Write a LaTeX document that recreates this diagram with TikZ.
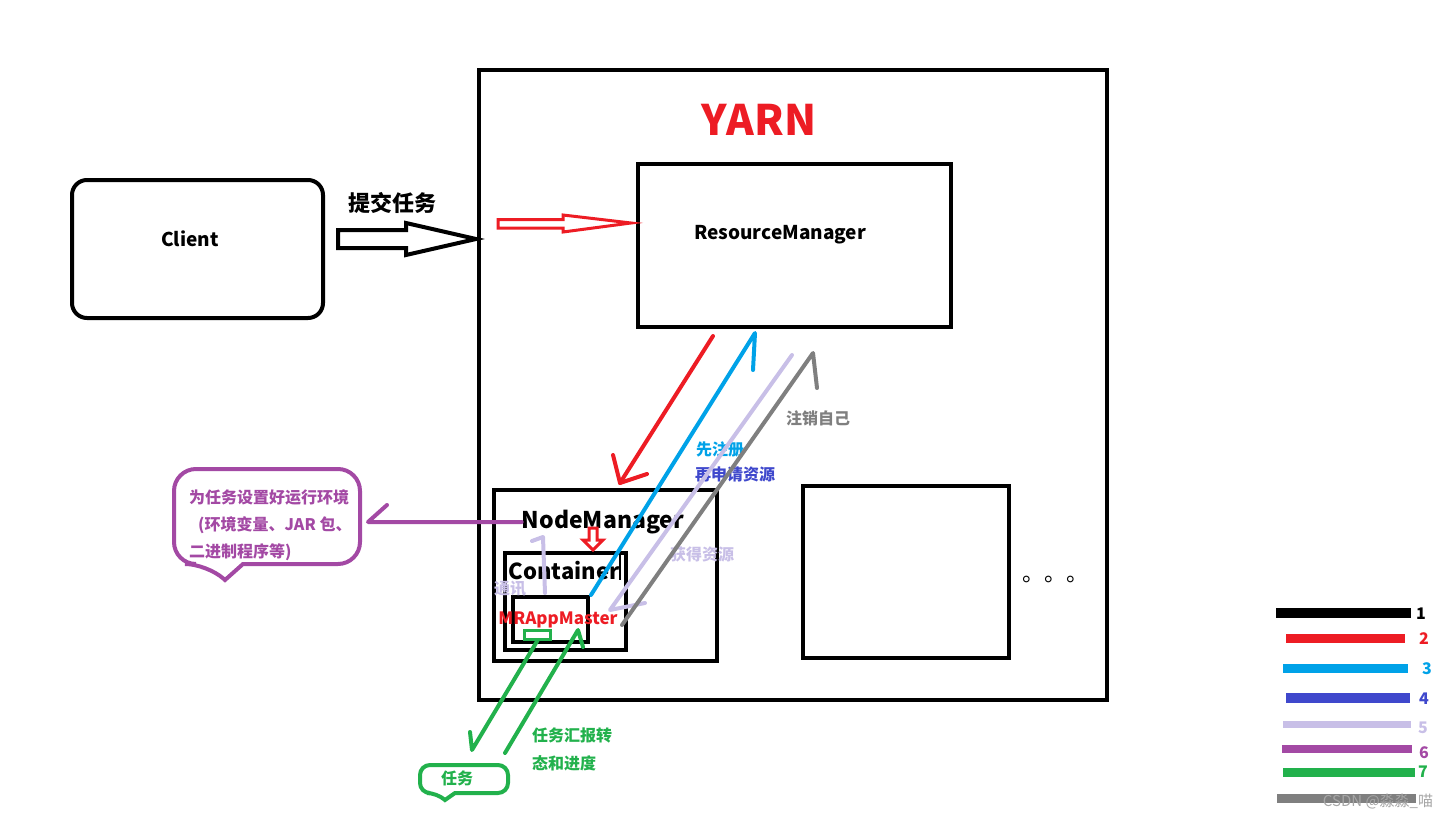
\documentclass[tikz,border=0pt]{standalone}
\usepackage{fontspec}
\setmainfont{Noto Sans CJK SC}
\usetikzlibrary{positioning}
\definecolor{pred}{RGB}{237,28,36}
\definecolor{pblue}{RGB}{0,162,232}
\definecolor{pindigo}{RGB}{63,72,204}
\definecolor{plilac}{RGB}{200,191,231}
\definecolor{ppurple}{RGB}{163,73,164}
\definecolor{pgreen}{RGB}{34,177,76}
\definecolor{pgray}{RGB}{127,127,127}
\newcommand{\fsz}[1]{\fontsize{#1}{#1}\selectfont}

\begin{document}
\begin{tikzpicture}[x=1pt,y=-1pt,
  box/.style={draw=black,line width=4pt,inner sep=0pt,outer sep=0pt},
  txt/.style={font=\bfseries\fsz{16},inner sep=0pt},
  stroke/.style={line width=4pt,line cap=round,line join=round},
  keyline/.style={line width=#1}]
\useasboundingbox (0,0) rectangle (1451,819);
% boxes
\node[box,rounded corners=15pt,minimum width=251pt,minimum height=138pt] (client) at (197.5,249) {};
\node[box,minimum width=628pt,minimum height=630pt] (yarn) at (793,385) {};
\node[box,minimum width=313pt,minimum height=163pt] (rm) at (794.5,245.5) {};
\node[box,minimum width=223pt,minimum height=171pt] (nm) at (605.5,575.5) {};
\node[box,minimum width=121pt,minimum height=97pt] (cont) at (565.5,601.5) {};
\node[box,minimum width=75pt,minimum height=45pt] (mram) at (550.5,619.5) {};
\node[box,minimum width=206pt,minimum height=172pt] (nm2) at (906,572) {};
\draw[line width=1.2pt] (620,555) -- (620,580);
\node[draw=pgreen,line width=3pt,minimum width=26pt,minimum height=9pt,inner sep=0pt] (task0) at (537.5,634.5) {};
% labels
\node[txt,font=\bfseries\fsz{19}] (clientlbl) at (190,239) {Client};
\node[txt,font=\bfseries\fsz{19}] (rmlbl) at (780,235) {ResourceManager};
\node[txt,font=\bfseries\fsz{42},text=pred] (yarnlbl) at (759,120) {YARN};
\node[txt,font=\bfseries\fsz{23}] (nmlbl) at (603,522) {NodeManager};
\node[txt,font=\bfseries\fsz{22}] (contlbl) at (564,571) {Container};
\node[txt,font=\bfseries\fsz{17},text=pred] (mramlbl) at (558,620) {MRAppMaster};
\node[txt,font=\bfseries\fsz{22}] (submit) at (392,203) {提交任务};
\node[txt,font=\fsz{22},anchor=base west] (dots) at (1022,581) {。。。};
\node[txt,text=pgray] (unreg) at (818,418) {注销自己};
\node[txt,text=pblue] (reg) at (720,449) {先注册};
\node[txt,text=pindigo] (apply) at (735,474) {再申请资源};
\node[txt,text=plilac] (got) at (702,554) {获得资源};
\node[txt,text=plilac] (comm) at (510,589) {通讯};
\node[txt,text=ppurple,anchor=west] (env1) at (189,497) {为任务设置好运行环境};
\node[txt,text=ppurple,anchor=west] (env2) at (198,525) {(环境变量、JAR 包、};
\node[txt,text=ppurple,anchor=west] (env3) at (189,552) {二进制程序等)};
\node[txt,text=pgreen,anchor=west] (rep1) at (532,735) {任务汇报转};
\node[txt,text=pgreen,anchor=west] (rep2) at (532,763) {态和进度};
\node[txt,text=pgreen] (task) at (457,778) {任务};
% hollow arrows
\draw[line width=4pt] (338,230) -- (406,230) -- (406,223) -- (476,239) -- (406,255) -- (406,248) -- (338,248) -- cycle;
\draw[pred,line width=3pt] (498,219.5) -- (563,219.5) -- (563,215) -- (631,223) -- (563,232) -- (563,228) -- (498,228) -- cycle;
\draw[pred,line width=3pt] (589,528) -- (597,528) -- (597,540) -- (603,540) -- (593,550) -- (583,540) -- (589,540) -- cycle;
% bubbles
\draw[ppurple,line width=4pt] (243,564) [rounded corners=22pt] -- (360,564) -- (360,469) -- (174,469) -- (174,564) -- (207,564) [sharp corners] -- (225,580) -- cycle;
\draw[pgreen,line width=4pt] (455,793) [rounded corners=10pt] -- (508,793) -- (508,765) -- (420,765) -- (420,793) -- (437,793) [sharp corners] -- (445,800) -- cycle;
% connectors
\coordinate (nmtop) at (620,483);
\coordinate (rmbot1) at (713,336);
\coordinate (rmbot2) at (755,333);
\coordinate (rmbot3) at (792,355);
\coordinate (rmbot4) at (813,353);
\coordinate (mram1) at (591,595);
\coordinate (mram2) at (610,610);
\coordinate (mram3) at (622,625);
\coordinate (bubtip) at (368,522);
\coordinate (tasktip) at (472,750);
\coordinate (taskfoot) at (505,753);
\coordinate (mramin) at (578,630);
\coordinate (comtop) at (543,537);
\draw[stroke,pred] (rmbot1) -- (nmtop);
\draw[stroke,pred] (613,455) -- (nmtop) -- (647,474);
\draw[stroke,pblue] (mram1) -- (rmbot2) -- (753,370);
\draw[stroke,plilac] (rmbot3) -- (mram2) -- (645,603);
\draw[stroke,pgray] (mram3) -- (rmbot4) -- (817,388);
\draw[stroke,ppurple] (nmlbl.west) -- (bubtip) -- (387,505);
\draw[stroke,plilac] (545,593) -- (comtop) -- (532,541);
\draw[stroke,pgreen] (task0.south) -- (tasktip) -- (470,732);
\draw[stroke,pgreen] (taskfoot) -- (mramin) -- (583,647);
% legend
\draw[keyline=10pt] (1276,613) -- (1411,613);
\draw[keyline=9pt,pred] (1286,638) -- (1405,638);
\draw[keyline=9pt,pblue] (1283,668.5) -- (1408,668.5);
\draw[keyline=10pt,pindigo] (1286,698) -- (1410,698);
\draw[keyline=7pt,plilac] (1283,724.5) -- (1411,724.5);
\draw[keyline=8pt,ppurple] (1282,749) -- (1412,749);
\draw[keyline=9pt,pgreen] (1283,772.5) -- (1415,772.5);
\draw[keyline=9pt,pgray] (1277,798.5) -- (1416,798.5);
\node[txt] (k1) at (1421,614) {1};
\node[txt,text=pred] (k2) at (1424,639) {2};
\node[txt,text=pblue] (k3) at (1427,669) {3};
\node[txt,text=pindigo] (k4) at (1424,699) {4};
\node[txt,text=plilac] (k5) at (1423,728) {5};
\node[txt,text=ppurple] (k6) at (1424,753) {6};
\node[txt,text=pgreen] (k7) at (1423,772) {7};
\node[inner sep=0pt,font=\fsz{15},text=gray!70] (mark) at (1378,801) {CSDN @淼淼\_喵};
\end{tikzpicture}
\end{document}
